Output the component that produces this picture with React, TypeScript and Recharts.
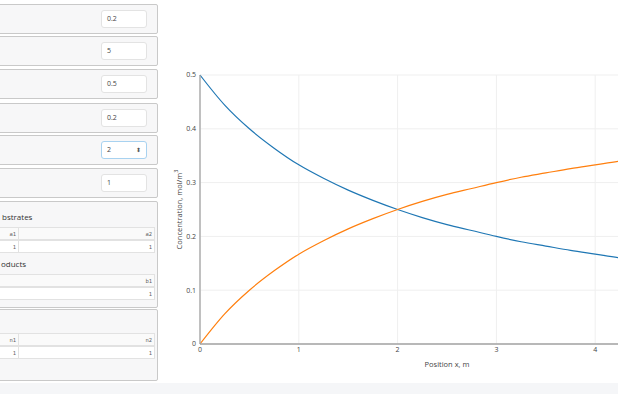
import { LineChart, Line, XAxis, YAxis, CartesianGrid, Label } from "recharts";

// position along the reactor, m
const positions = [0, 0.25, 0.5, 0.75, 1, 1.25, 1.5, 1.75, 2, 2.25, 2.5, 2.75, 3, 3.25, 3.5, 3.75, 4, 4.25, 4.5, 4.75, 5];
// substrate concentration (blue)
const substrate = [0.5, 0.444, 0.4, 0.364, 0.333, 0.308, 0.286, 0.267, 0.25, 0.235, 0.222, 0.211, 0.2, 0.19, 0.182, 0.174, 0.167, 0.16, 0.154, 0.148, 0.143];
// product concentration (orange)
const product = [0, 0.056, 0.1, 0.136, 0.167, 0.192, 0.214, 0.233, 0.25, 0.265, 0.278, 0.289, 0.3, 0.31, 0.318, 0.326, 0.333, 0.34, 0.346, 0.352, 0.357];

const xTicks = [0, 1, 2, 3, 4];
const yTicks = [0, 0.1, 0.2, 0.3, 0.4, 0.5];

const paramValues = ["0.2", "5", "0.5", "0.2", "2", "1"];
const rowTops = [4, 36, 69, 103, 135, 168];

const data = positions.map((x, i) => ({ x, a: substrate[i], b: product[i] }));

const FONT = '"Open Sans", "DejaVu Sans", sans-serif';

function Box({ top, height, children }: { top: number; height: number; children?: any }) {
  return (
    <div
      style={{
        position: "absolute",
        left: -10,
        top,
        width: 168,
        height,
        border: "1px solid #c9c9c9",
        borderRadius: 2,
        background: "#f7f7f8",
        boxSizing: "border-box",
      }}
    >
      {children}
    </div>
  );
}

function Cell({ left, top, width, text, bg }: { left: number; top: number; width: number; text: string; bg: string }) {
  return (
    <div
      style={{
        position: "absolute",
        left,
        top,
        width,
        height: 13,
        background: bg,
        border: "1px solid #e2e2e2",
        boxSizing: "border-box",
        fontSize: 5.5,
        color: "#666",
        textAlign: "right",
        paddingRight: 2,
        lineHeight: "12px",
        fontFamily: "DejaVu Sans Mono, monospace",
      }}
    >
      {text}
    </div>
  );
}

function Table({ top, cols }: { top: number; cols: string[] }) {
  // relative to box left (-10)
  const edges = cols.length === 2 ? [-20, 27, 163] : [-20, 163];
  return (
    <>
      {cols.map((c, i) => (
        <Cell key={"h" + i} left={edges[i]} top={top} width={edges[i + 1] - edges[i] + 1} text={c} bg="#fafafa" />
      ))}
      {cols.map((c, i) => (
        <Cell key={"r" + i} left={edges[i]} top={top + 13} width={edges[i + 1] - edges[i] + 1} text="1" bg="#fff" />
      ))}
    </>
  );
}

export default function App() {
  return (
    <div
      style={{
        position: "absolute",
        left: 0,
        top: 0,
        width: 618,
        height: 394,
        overflow: "hidden",
        background: "#fff",
        fontFamily: FONT,
      }}
    >
      {rowTops.map((t, i) => (
        <Box key={i} top={t} height={30}>
          <div
            style={{
              position: "absolute",
              left: 110,
              top: 5,
              width: 46,
              height: 18,
              background: "#fff",
              border: i === 4 ? "1px solid #a8d2f0" : "1px solid #e3e3e3",
              borderRadius: 3,
              boxSizing: "border-box",
              fontSize: 7,
              color: "#444",
              lineHeight: "16px",
              paddingLeft: 5,
            }}
          >
            {paramValues[i]}
            {i === 4 && (
              <span style={{ position: "absolute", right: 5, top: 0, fontSize: 6, lineHeight: "16px", color: "#555" }}>
                ⬍
              </span>
            )}
          </div>
        </Box>
      ))}

      <Box top={201} height={107}>
        <div style={{ position: "absolute", left: 11, top: 9, fontSize: 8, color: "#333" }}>bstrates</div>
        <Table top={25} cols={["a1", "a2"]} />
        <div style={{ position: "absolute", left: 10, top: 56, fontSize: 8, color: "#333" }}>oducts</div>
        <Table top={72} cols={["b1"]} />
      </Box>

      <Box top={309} height={72}>
        <Table top={23} cols={["n1", "n2"]} />
      </Box>

      <div style={{ position: "absolute", left: 0, top: 383, width: 618, height: 11, background: "#f5f6f8" }} />

      <div style={{ position: "absolute", left: 160, top: 0 }}>
        <LineChart width={600} height={383} data={data} margin={{ top: 75, right: 66, left: 0, bottom: 0 }}>
          <CartesianGrid stroke="#efefef" strokeWidth={1} horizontal vertical />
          <XAxis
            dataKey="x"
            type="number"
            domain={[0, 5]}
            ticks={xTicks}
            height={39}
            tickSize={0}
            tickMargin={3}
            axisLine={{ stroke: "#a3a3a3", strokeWidth: 1.3 }}
            tickLine={false}
            tick={{ fontSize: 7, fill: "#444", fontFamily: FONT }}
            interval={0}
          >
            <Label
              content={({ viewBox }: any) => (
                <text
                  x={viewBox.x + viewBox.width / 2}
                  y={viewBox.y + 21}
                  textAnchor="middle"
                  dominantBaseline="middle"
                  fontSize={7.5}
                  fill="#444"
                  fontFamily={FONT}
                >
                  Position x, m
                </text>
              )}
            />
          </XAxis>
          <YAxis
            type="number"
            domain={[0, 0.5]}
            ticks={yTicks}
            width={40}
            tickSize={0}
            tickMargin={4}
            axisLine={{ stroke: "#a3a3a3", strokeWidth: 1.3 }}
            tickLine={false}
            tick={{ fontSize: 7, fill: "#444", fontFamily: FONT }}
            interval={0}
          >
            <Label
              content={({ viewBox }: any) => {
                const cx = viewBox.x + 20;
                const cy = viewBox.y + viewBox.height / 2;
                return (
                  <text
                    x={cx}
                    y={cy}
                    transform={`rotate(-90 ${cx} ${cy})`}
                    textAnchor="middle"
                    dominantBaseline="middle"
                    fontSize={7.5}
                    fill="#444"
                    fontFamily={FONT}
                  >
                    Concentration, mol/m<tspan fontSize={5.5} dy={-3}>3</tspan>
                  </text>
                );
              }}
            />
          </YAxis>
          <Line type="monotone" dataKey="a" stroke="#1f77b4" strokeWidth={1.2} dot={false} isAnimationActive={false} />
          <Line type="monotone" dataKey="b" stroke="#ff7f0e" strokeWidth={1.2} dot={false} isAnimationActive={false} />
        </LineChart>
      </div>
    </div>
  );
}
